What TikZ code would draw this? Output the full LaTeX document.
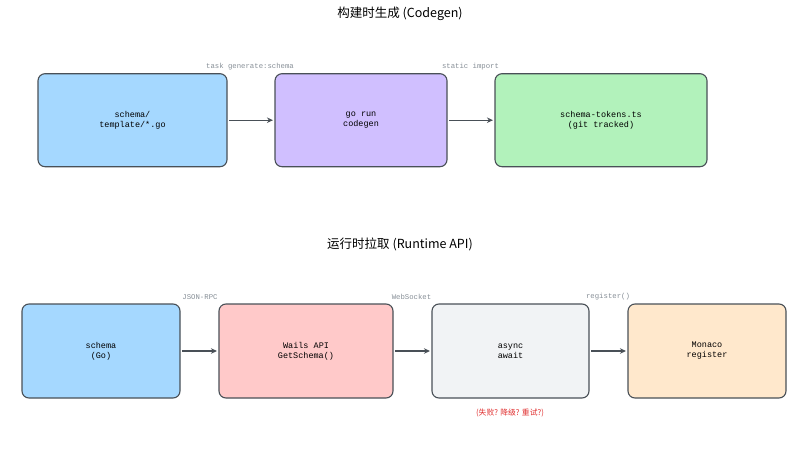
\documentclass[tikz,border=0pt]{standalone}
\usepackage{fontspec}
\setmonofont{Liberation Mono}
\newfontfamily\cjk{Noto Sans CJK SC}
\usetikzlibrary{arrows.meta}
\definecolor{cblue}{HTML}{A5D8FF}
\definecolor{cpurple}{HTML}{D0BFFF}
\definecolor{cgreen}{HTML}{B2F2BB}
\definecolor{cpink}{HTML}{FFC9C9}
\definecolor{cgray}{HTML}{F1F3F5}
\definecolor{corange}{HTML}{FFE8CC}
\definecolor{cedge}{HTML}{495057}
\definecolor{clabel}{HTML}{868E96}
\definecolor{cred}{HTML}{E03131}
\tikzset{
  box/.style={draw=cedge, line width=1.1pt, rounded corners=7pt, inner sep=0pt,
    align=center, font=\ttfamily\fontsize{8.5}{10}\selectfont, text=black},
  conn/.style={draw=cedge, line width=1.4pt, shorten <=1.5pt, shorten >=1.5pt,
    -{Stealth[length=6pt,width=5.5pt]}},
  elabel/.style={font=\ttfamily\fontsize{7.3}{8}\selectfont, text=clabel},
  title/.style={font=\cjk\fontsize{12.5}{14}\selectfont, text=black},
}
\begin{document}
\begin{tikzpicture}[x=1pt,y=-1pt]
\useasboundingbox (0,0) rectangle (800,452);
% titles
\node[title] (t1) at (400,14) {构建时生成 (Codegen)};
\node[title] (t2) at (400,244) {运行时拉取 (Runtime API)};
% top row
\node[box, fill=cblue, minimum width=189pt, minimum height=93pt] (a1) at (132.5,120.2) {schema/\\template/*.go};
\node[box, fill=cpurple, minimum width=172pt, minimum height=93pt] (a2) at (361,120.2) {go run\\codegen};
\node[box, fill=cgreen, minimum width=212pt, minimum height=93pt] (a3) at (601,120.2) {schema-tokens.ts\\(git tracked)};
\draw[conn] (a1) -- (a2);
\draw[conn] (a2) -- (a3);
\node[elabel] (l1) at (250,66.5) {task generate:schema};
\node[elabel] (l2) at (470.5,66.5) {static import};
% bottom row
\node[box, fill=cblue, minimum width=158pt, minimum height=94pt] (b1) at (101,351) {schema\\(Go)};
\node[box, fill=cpink, minimum width=174pt, minimum height=94pt] (b2) at (306,351) {Wails API\\GetSchema()};
\node[box, fill=cgray, minimum width=157pt, minimum height=94pt] (b3) at (510.5,351) {async\\await};
\node[box, fill=corange, minimum width=158pt, minimum height=94pt] (b4) at (707,351) {Monaco\\register};
\draw[conn] (b1) -- (b2);
\draw[conn] (b2) -- (b3);
\draw[conn] (b3) -- (b4);
\node[elabel] (m1) at (200,297) {JSON-RPC};
\node[elabel] (m2) at (411.5,297) {WebSocket};
\node[elabel] (m3) at (608,297) {register()};
\node[font=\cjk\fontsize{7.8}{9}\selectfont, text=cred] (note) at (510,413) {(失败? 降级? 重试?)};
\end{tikzpicture}
\end{document}
